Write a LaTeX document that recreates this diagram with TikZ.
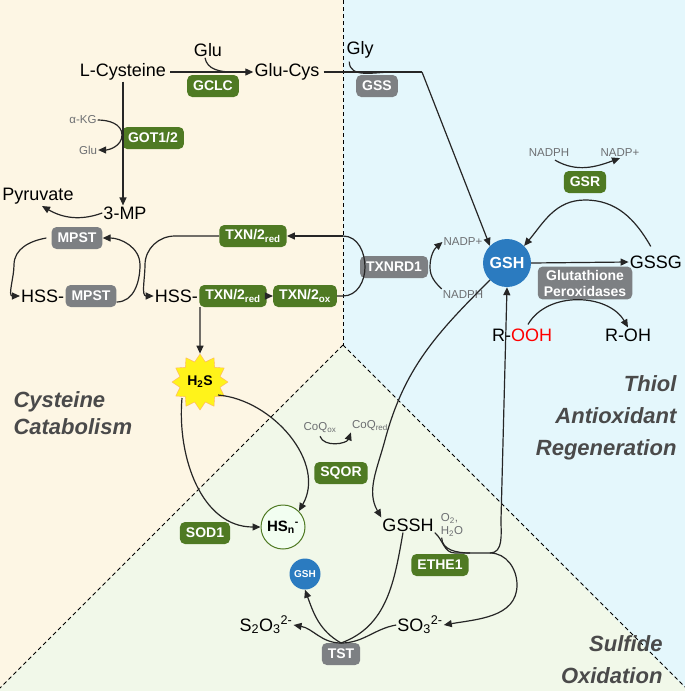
\documentclass[tikz,border=0pt]{standalone}
\usepackage{fontspec}
\setmainfont{Liberation Sans}
\usetikzlibrary{shapes.geometric,shapes.misc,arrows.meta}
\definecolor{eg}{HTML}{4F7A23}
\definecolor{eh}{HTML}{7D8083}
\definecolor{gb}{HTML}{2B7BC0}
\definecolor{bgA}{HTML}{FDF6E4}
\definecolor{bgB}{HTML}{E4F7FC}
\definecolor{bgC}{HTML}{F1F8E9}
\definecolor{sm}{HTML}{6D6F72}
\definecolor{tt}{HTML}{4A4A4A}
\begin{document}
\begin{tikzpicture}[x=1pt,y=-1pt,
 enz/.style={rounded corners=5pt,fill=#1,text=white,font=\fontsize{14}{15}\selectfont\bfseries,inner xsep=6pt,minimum height=22pt},
 G/.style={enz=eg}, H/.style={enz=eh},
 lab/.style={font=\fontsize{18}{19}\selectfont,inner sep=1pt},
 sl/.style={font=\fontsize{11.5}{13}\selectfont,text=sm,inner sep=1pt},
 ar/.style={-{Triangle[length=8pt,width=7pt]},line width=1.2pt,black!85},
 ln/.style={line width=1.2pt,black!85},
 ttl/.style={font=\fontsize{22}{32}\selectfont\bfseries\itshape,text=tt,align=right},
 dsh/.style={dashed,line width=1pt,dash pattern=on 4pt off 3pt}]
\useasboundingbox (0,0) rectangle (685,691);
\fill[bgA] (0,0) rectangle (343,691);
\fill[bgB] (343,0) rectangle (685,691);
\fill[bgC] (343,345) -- (-3,691) -- (688,691) -- cycle;
\draw[dsh] (343,0) -- (343,345);
\draw[dsh] (343,345) -- (0,688);
\draw[dsh] (343,345) -- (685,687);
% nodes
\node[lab] (cys) at (123,72) {L-Cysteine};
\node[lab] (glu1) at (208,50) {Glu};
\node[lab] (gc) at (287,72) {Glu-Cys};
\node[G] (gclc) at (213,86) {GCLC};
\node[lab] (gly) at (360,50) {Gly};
\node[H] (gss) at (377,86) {GSS};
\node[G] (got) at (153,138) {GOT1/2};
\node[sl] (akg) at (83,120) {α-KG};
\node[sl] (glu2) at (88,150) {Glu};
\node[lab] (mp) at (125,213) {3-MP};
\node[lab] (pyr) at (38,196) {Pyruvate};
\node[H] (mpst1) at (77,238) {MPST};
\node[H] (mpst2) at (91,296) {MPST};
\node[lab,anchor=east] (hss1) at (mpst2.west) {HSS-};
\node[G] (txr1) at (253,236) {TXN/2\textsubscript{red}};
\node[G] (txr2) at (233,296) {TXN/2\textsubscript{red}};
\node[lab,anchor=east] (hss2) at (txr2.west) {HSS-};
\node[G] (txo) at (305,296) {TXN/2\textsubscript{ox}};
\node[H] (trd) at (394,267) {TXNRD1};
\node[sl] (nadp1) at (463,242) {NADP+};
\node[sl] (nadph1) at (463,295) {NADPH};
\node[circle,fill=gb,text=white,font=\fontsize{16}{17}\selectfont\bfseries,minimum size=48pt,inner sep=0] (gsh) at (507,263) {GSH};
\node[sl] (nadph2) at (549,153) {NADPH};
\node[sl] (nadp2) at (620,153) {NADP+};
\node[G] (gsr) at (585,182) {GSR};
\node[lab,anchor=east] (gssg) at (683,262) {GSSG};
\node[H,align=center,font=\fontsize{14}{16}\selectfont\bfseries] (gpx) at (585,283) {Glutathione\\Peroxidases};
\node[lab] (rooh) at (522,335) {R-\textcolor{red}{OOH}};
\node[lab] (roh) at (628,335) {R-OH};
\node[star,star points=12,star point ratio=1.35,fill=yellow!90!white,draw=orange!60,minimum size=56pt,inner sep=0,font=\fontsize{14}{15}\selectfont\bfseries] (h2s) at (200,382) {H\textsubscript{2}S};
\node[ttl,align=left,anchor=west,font=\fontsize{22}{27}\selectfont\bfseries\itshape] (t1) at (10,413) {Cysteine\\Catabolism};
\node[ttl,anchor=east] (t2) at (680,418) {Thiol\\Antioxidant\\Regeneration};
\node[ttl,anchor=east] (t3) at (666,660) {Sulfide\\Oxidation};
\node[sl] (coqo) at (320,428) {CoQ\textsubscript{ox}};
\node[sl] (coqr) at (370,426) {CoQ\textsubscript{red}};
\node[G] (sqor) at (341,473) {SQOR};
\node[circle,draw=eg,line width=1pt,fill=bgC!60!green!12,minimum size=44pt,inner sep=0,font=\fontsize{15}{16}\selectfont\bfseries] (hsn) at (283,527) {HS\textsubscript{n}\textsuperscript{-}};
\node[G] (sod) at (205,533) {SOD1};
\node[lab] (gssh) at (408,525) {GSSH};
\node[sl,align=left] (o2) at (452,525) {O\textsubscript{2},\\H\textsubscript{2}O};
\node[G] (ethe) at (440,565) {ETHE1};
\node[circle,fill=gb,text=white,font=\fontsize{10}{11}\selectfont\bfseries,minimum size=31pt,inner sep=0] (gsh2) at (305,574) {GSH};
\node[lab] (s2o3) at (266,625) {S\textsubscript{2}O\textsubscript{3}\textsuperscript{2-}};
\node[lab] (so3) at (420,625) {SO\textsubscript{3}\textsuperscript{2-}};
\node[H] (tst) at (341,654) {TST};
% connectors
\draw[ar] (cys.east) ++(3,0) coordinate (c1) -- (gc.west);
\draw[ln] (glu1.south) ++(-3,0) to[out=-80,in=180] (232,72);
\draw[ln] (gc.east) ++(3,0) -- (422,72) coordinate (k1);
\draw[ar] (k1) -- (gsh.north west);
\draw[ln] (gly.south west) ++(4,2) to[out=-90,in=180] (392,72);
\draw[ar] (cys.south) -- (mp.north -| cys.south);
\draw[ar] (akg.east) to[out=0,in=90] (122,135) to[out=-90,in=0] (glu2.east);
\draw[ar] (mp.west) to[out=200,in=-30] (42,206);
\draw[ar] (mpst1.west) ++(-5,0) to[out=190,in=90] (14,265) to[out=-90,in=180] (hss1.west);
\draw[ar] (mpst2.east) ++(0,6) to[out=0,in=-90] (140,265) to[out=90,in=0] (mpst1.east);
\draw[ar] (txr1.west) -- (175,236) to[out=180,in=90] (145,265) to[out=-90,in=180] (hss2.west);
\draw[ar] (txr2.east) -- (txo.west);
\draw[ln] (txo.east) -- (343,296) to[out=0,in=-90] (365,267) to[out=90,in=0] (343,236);
\draw[ar] (343,236) -- (txr1.east);
\draw[ar] (nadph1.west) ++(0,-6) to[out=135,in=-90] (430,267) to[out=90,in=-140] (nadp1.west);
\draw[ar] (200,307) -- (h2s.north);
\draw[ar] (nadph2.south) ++(6,2) to[out=-30,in=200] (nadp2.south);
\draw[ar] (gssg.north) ++(-5,-8) to[out=120,in=0] (585,200) to[out=180,in=50] (gsh.north east);
\draw[ar] (gsh.east) -- (gssg.west);
\draw[ar] (rooh.north) ++(6,-3) to[out=60,in=120] (roh.north);
\draw[ar] (182,398) to[out=-95,in=180] (hsn.west);
\draw[ar] (218,395) to[out=-5,in=60] (hsn.north east);
\draw[ar] (coqo.south) ++(0,2) to[out=-70,in=-110] (coqr.south west);
\draw[ar] (gsh.south west) to[out=225,in=75] (385,440) to[out=-105,in=120] (gssh.north west);
\draw[ln] (gssh.south) ++(-5,0) to[out=-100,in=20] (341,643);
\draw[ar] (341,643) to[out=150,in=-70] (gsh2.south);
\draw[ar] (so3.west) to[out=190,in=0] (341,643) to[out=180,in=-10] (s2o3.east);
\draw[ln] (gssh.south east) to[out=-40,in=180] (455,553) -- (490,553);
\draw[ln] (o2.south west) ++(2,0) to[out=-90,in=180] (470,553);
\draw[ar] (490,553) to[out=0,in=-90] (501,520) -- (gsh.south);
\draw[ar] (490,553) to[out=0,in=90] (517,585) to[out=-90,in=10] (so3.east);
\end{tikzpicture}
\end{document}
